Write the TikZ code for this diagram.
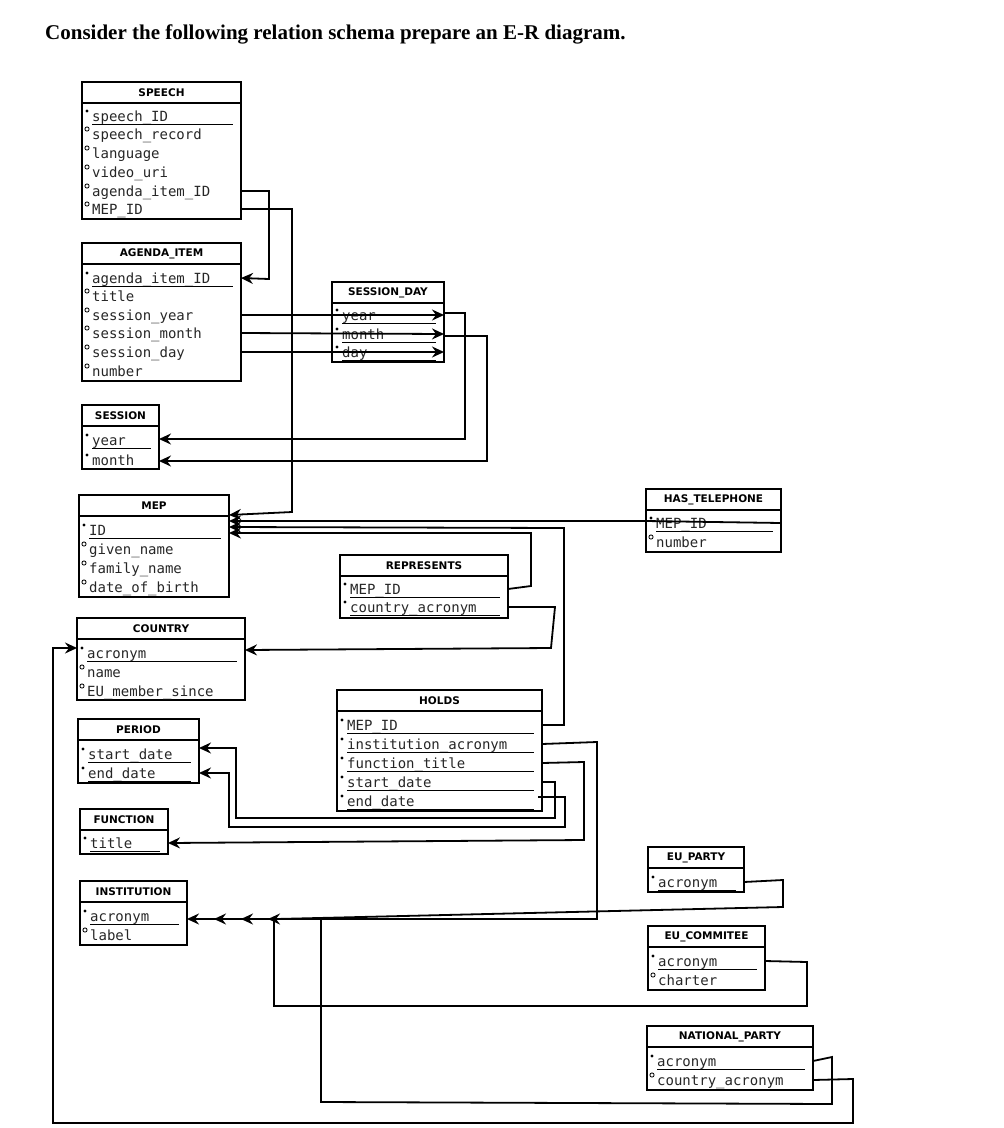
\documentclass[tikz,border=0pt]{standalone}
\usepackage{fontspec}
\setmainfont{Liberation Serif}
\newfontfamily\monof{DejaVu Sans Mono}
\newfontfamily\hdrf{DejaVu Sans}
\usetikzlibrary{arrows.meta}
\begin{document}
\begin{tikzpicture}[x=1pt,y=-1pt,
 box/.style={line width=1.8pt},
 hdr/.style={font=\hdrf\bfseries\fontsize{10.5}{12}\selectfont,inner sep=0pt},
 att/.style={font=\monof\fontsize{14}{16}\selectfont,inner sep=0pt,text=black!85},
 con/.style={line width=1.8pt},
 arr/.style={con,-{Stealth[length=12pt,width=11pt,inset=4pt]}}]
\useasboundingbox (0,0) rectangle (1004,1128);
\newcommand\tbl[6]{%
 \draw[box] (#2,#4) rectangle (#3,#5);
 \draw[box] (#2,#4+21) -- (#3,#4+21);
 \node[hdr] (#1) at ({(#2+#3)/2},#4+10.5) {#6};}
\newcommand\attr[6]{%
 \node[att,anchor=base west] (#1) at (#2+10,#4+5) {#6};
 \ifnum#5=1
  \fill (#2+5,#4-5) circle (1.6);
  \draw[line width=0.9pt] (#2+10,#4+8) -- (#3-8,#4+8);
 \else
  \draw[line width=0.8pt] (#2+5,#4-5) circle (2.1);
 \fi
 \coordinate (#1-e) at (#3,#4);}
\node[anchor=base west,font=\bfseries\fontsize{21}{24}\selectfont,inner sep=0pt] (title) at (45,39) {Consider the following relation schema prepare an E-R diagram.};
% SPEECH
\tbl{sp}{82}{241}{82}{219}{SPEECH}
\attr{sp1}{82}{241}{116}{1}{speech\_ID}
\attr{sp2}{82}{241}{134}{0}{speech\_record}
\attr{sp3}{82}{241}{153}{0}{language}
\attr{sp4}{82}{241}{172}{0}{video\_uri}
\attr{sp5}{82}{241}{191}{0}{agenda\_item\_ID}
\attr{sp6}{82}{241}{209}{0}{MEP\_ID}
% AGENDA
\tbl{ag}{82}{241}{243}{381}{AGENDA\_ITEM}
\attr{ag1}{82}{241}{278}{1}{agenda\_item\_ID}
\attr{ag2}{82}{241}{296}{0}{title}
\attr{ag3}{82}{241}{315}{0}{session\_year}
\attr{ag4}{82}{241}{333}{0}{session\_month}
\attr{ag5}{82}{241}{352}{0}{session\_day}
\attr{ag6}{82}{241}{371}{0}{number}
% SESSION_DAY
\tbl{sd}{332}{444}{282}{362}{SESSION\_DAY}
\attr{sd1}{332}{444}{315}{1}{year}
\attr{sd2}{332}{444}{334}{1}{month}
\attr{sd3}{332}{444}{352}{1}{day}
% SESSION
\tbl{se}{82}{159}{405}{469}{SESSION}
\attr{se1}{82}{159}{440}{1}{year}
\attr{se2}{82}{159}{460}{1}{month}
% MEP
\tbl{mep}{79}{229}{495}{597}{MEP}
\attr{mep1}{79}{229}{530}{1}{ID}
\attr{mep2}{79}{229}{549}{0}{given\_name}
\attr{mep3}{79}{229}{568}{0}{family\_name}
\attr{mep4}{79}{229}{587}{0}{date\_of\_birth}
% REPRESENTS
\tbl{rep}{340}{508}{555}{618}{REPRESENTS}
\attr{rep1}{340}{508}{589}{1}{MEP\_ID}
\attr{rep2}{340}{508}{607}{1}{country\_acronym}
% HAS_TELEPHONE
\tbl{ht}{646}{781}{489}{552}{HAS\_TELEPHONE}
\attr{ht1}{646}{781}{523}{1}{MEP\_ID}
\attr{ht2}{646}{781}{542}{0}{number}
% COUNTRY
\tbl{co}{77}{245}{618}{700}{COUNTRY}
\attr{co1}{77}{245}{653}{1}{acronym}
\attr{co2}{77}{245}{672}{0}{name}
\attr{co3}{77}{245}{691}{0}{EU\_member\_since}
% HOLDS
\tbl{ho}{337}{542}{690}{811}{HOLDS}
\attr{ho1}{337}{542}{725}{1}{MEP\_ID}
\attr{ho2}{337}{542}{744}{1}{institution\_acronym}
\attr{ho3}{337}{542}{763}{1}{function\_title}
\attr{ho4}{337}{542}{782}{1}{start\_date}
\attr{ho5}{337}{542}{801}{1}{end\_date}
% PERIOD
\tbl{pe}{78}{199}{719}{783}{PERIOD}
\attr{pe1}{78}{199}{754}{1}{start\_date}
\attr{pe2}{78}{199}{773}{1}{end\_date}
% FUNCTION
\tbl{fu}{80}{168}{809}{854}{FUNCTION}
\attr{fu1}{80}{168}{843}{1}{title}
% INSTITUTION
\tbl{in}{80}{187}{881}{945}{INSTITUTION}
\attr{in1}{80}{187}{916}{1}{acronym}
\attr{in2}{80}{187}{935}{0}{label}
% EU_PARTY
\tbl{ep}{648}{744}{847}{892}{EU\_PARTY}
\attr{ep1}{648}{744}{882}{1}{acronym}
% EU_COMMITEE
\tbl{ec}{648}{765}{926}{990}{EU\_COMMITEE}
\attr{ec1}{648}{765}{961}{1}{acronym}
\attr{ec2}{648}{765}{980}{0}{charter}
% NATIONAL_PARTY
\tbl{np}{647}{813}{1026}{1090}{NATIONAL\_PARTY}
\attr{np1}{647}{813}{1061}{1}{acronym}
\attr{np2}{647}{813}{1080}{0}{country\_acronym}
% target coordinates
\coordinate (mepA) at (229,515);
\coordinate (mepB) at (229,521);
\coordinate (mepC) at (229,527);
\coordinate (mepD) at (229,533);
\coordinate (insA) at (187,919);
\coordinate (insB) at (214,919);
\coordinate (insC) at (241,919);
\coordinate (insD) at (268,919);
\coordinate (coL) at (77,648);
\coordinate (coR) at (245,650);
% connectors
\draw[arr] (sp5-e) -- (269,191) -- (269,279) -- (ag1-e);
\draw[arr] (sp6-e) -- (292,209) -- (292,512) -- (mepA);
\draw[arr] (ag3-e) -- (sd1-e);
\draw[arr] (ag4-e) -- (sd2-e);
\draw[arr] (ag5-e) -- (sd3-e);
\draw[arr] (444,313) -- (465,313) -- (465,439) -- (159,439);
\draw[arr] (444,336) -- (487,336) -- (487,461) -- (159,461);
\draw[arr] (ht1-e) -- (646,521) -- (mepB);
\draw[arr] (ho1-e) -- (564,725) -- (564,528) -- (mepC);
\draw[arr] (rep1-e) -- (531,586) -- (531,533) -- (mepD);
\draw[arr] (rep2-e) -- (555,607) -- (551,648) -- (coR);
\draw[arr] (ho2-e) -- (597,742) -- (597,919) -- (insA);
\draw[arr] (ep1-e) -- (783,880) -- (783,907) -- (276,919) -- (insB);
\draw[arr] (np1-e) -- (832,1057) -- (832,1104) -- (321,1102) -- (321,919) -- (insC);
\draw[arr] (ec1-e) -- (807,962) -- (807,1006) -- (274,1006) -- (274,919) -- (insD);
\draw[arr] (ho3-e) -- (584,762) -- (584,840) -- (fu1-e);
\draw[arr] (ho4-e) -- (555,782) -- (555,818) -- (236,818) -- (236,748) -- (199,748);
\draw[arr] (538,797) -- (565,797) -- (565,827) -- (229,827) -- (229,773) -- (pe2-e);
\draw[arr] (np2-e) -- (853,1079) -- (853,1123) -- (53,1123) -- (53,648) -- (coL);
\end{tikzpicture}
\end{document}
